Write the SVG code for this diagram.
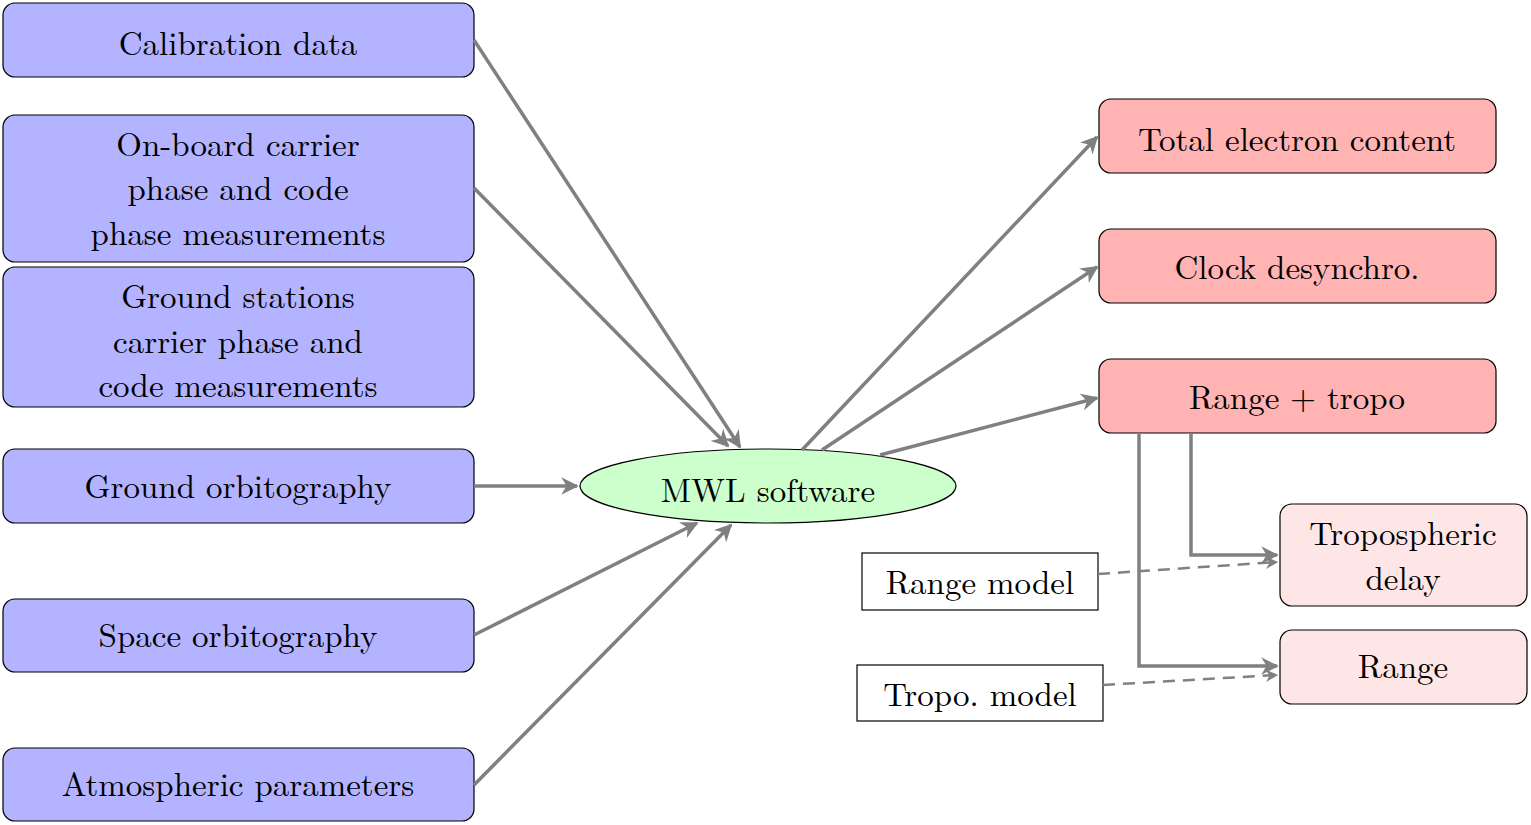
<svg xmlns="http://www.w3.org/2000/svg" width="1531" height="825" viewBox="0 0 1531 825">
<style>
text{font-family:"Latin Modern Roman","Liberation Serif",serif;font-size:33px;text-anchor:middle;dominant-baseline:central;fill:#000}
.in rect{fill:#b3b3ff;stroke:#000;stroke-width:1.2}
.out rect{fill:#ffb3b3;stroke:#000;stroke-width:1.2}
.sub rect{fill:#ffe6e6;stroke:#000;stroke-width:1.2}
.mod rect{fill:#fff;stroke:#000;stroke-width:1.2}
#connectors path{fill:none;stroke:#808080;stroke-width:3.5;marker-end:url(#ah)}
#connectors .d{stroke-width:2.5;stroke-dasharray:12 8}
</style>
<defs>
<marker id="ah" viewBox="0 0 10 10" refX="9" refY="5" markerWidth="5" markerHeight="5" orient="auto" markerUnits="strokeWidth">
<path d="M0,0 L10,5 L0,10 L3,5 Z" fill="#808080"/>
</marker>
</defs>
<g id="calib" class="in"><rect x="3" y="3" width="471" height="74" rx="12"/><text x="238" y="41">Calibration data</text></g>
<g id="onboard" class="in"><rect x="3" y="115" width="471" height="147" rx="12"/><text x="238" y="142">On-board carrier</text><text x="238" y="186">phase and code</text><text x="238" y="231">phase measurements</text></g>
<g id="groundst" class="in"><rect x="3" y="267" width="471" height="140" rx="12"/><text x="238" y="294">Ground stations</text><text x="238" y="339">carrier phase and</text><text x="238" y="383">code measurements</text></g>
<g id="groundorb" class="in"><rect x="3" y="449" width="471" height="74" rx="12"/><text x="238" y="484">Ground orbitography</text></g>
<g id="spaceorb" class="in"><rect x="3" y="599" width="471" height="73" rx="12"/><text x="238" y="633">Space orbitography</text></g>
<g id="atmo" class="in"><rect x="3" y="748" width="471" height="73" rx="12"/><text x="238" y="782">Atmospheric parameters</text></g>
<g id="mwl"><ellipse cx="768" cy="486" rx="188" ry="37" fill="#ccffcc" stroke="#000" stroke-width="1.2"/><text x="768" y="488">MWL software</text></g>
<g id="tec" class="out"><rect x="1099" y="99" width="397" height="74" rx="12"/><text x="1297" y="137">Total electron content</text></g>
<g id="clock" class="out"><rect x="1099" y="229" width="397" height="74" rx="12"/><text x="1297" y="265">Clock desynchro.</text></g>
<g id="rangetropo" class="out"><rect x="1099" y="359" width="397" height="74" rx="12"/><text x="1297" y="395">Range + tropo</text></g>
<g id="tropdelay" class="sub"><rect x="1280" y="504" width="247" height="102" rx="12"/><text x="1403" y="531">Tropospheric</text><text x="1403" y="576">delay</text></g>
<g id="range" class="sub"><rect x="1280" y="630" width="247" height="74" rx="12"/><text x="1403" y="664">Range</text></g>
<g id="rangemodel" class="mod"><rect x="862" y="553" width="236" height="57"/><text x="980" y="580">Range model</text></g>
<g id="tropomodel" class="mod"><rect x="857" y="665" width="246" height="56"/><text x="980" y="692">Tropo. model</text></g>
<g id="connectors">
<path d="M474,40 L740,447"/>
<path d="M474,188 L728,446"/>
<path d="M474,486 L577,486"/>
<path d="M474,635 L697,523"/>
<path d="M474,785 L731,525"/>
<path d="M802,450 L1097,137"/>
<path d="M822,450 L1097,267"/>
<path d="M880,455 L1097,398"/>
<path d="M1191,433 L1191,555 L1277,555"/>
<path d="M1139,433 L1139,666 L1277,666"/>
<path class="d" d="M1098,574 L1277,562"/>
<path class="d" d="M1103,685 L1277,675"/>
</g>
</svg>
